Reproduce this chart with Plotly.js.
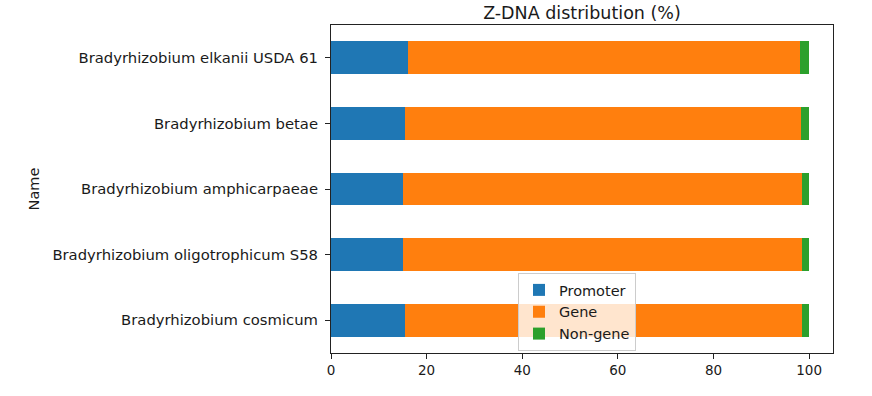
<!DOCTYPE html>
<html>
<head>
<meta charset="utf-8">
<script src="https://cdn.plot.ly/plotly-3.0.1.min.js"></script>
<style>html,body{margin:0;padding:0;background:#fff;}#chart{width:872px;height:396px;}</style>
</head>
<body>
<div id="chart"></div>
<script>
const names = [
  "Bradyrhizobium cosmicum",
  "Bradyrhizobium oligotrophicum S58",
  "Bradyrhizobium amphicarpaeae",
  "Bradyrhizobium betae",
  "Bradyrhizobium elkanii USDA 61"
];
const promoter = [15.5, 15.1, 15.1, 15.5, 16.2];
const gene = [83.1, 83.5, 83.5, 82.8, 81.8];
const nonGene = [1.4, 1.4, 1.4, 1.7, 2.0];
const seriesNames = ["Promoter", "Gene", "Non-gene"];
const colors = ["#1f77b4", "#ff7f0e", "#2ca02c"];
const xTicks = [0, 20, 40, 60, 80, 100];

const font = "DejaVu Sans, sans-serif";
const txt = "#1a1a1a";

const data = [promoter, gene, nonGene].map((vals, i) => ({
  type: "bar",
  orientation: "h",
  y: names,
  x: vals,
  name: seriesNames[i],
  marker: {color: colors[i], line: {width: 0}},
  hoverinfo: "x+y+name"
}));

const layout = {
  width: 872, height: 396,
  barmode: "stack",
  bargap: 0.5,
  paper_bgcolor: "#fff",
  plot_bgcolor: "#fff",
  margin: {l: 331, r: 39, t: 25, b: 43, pad: 0},
  font: {family: font, size: 14.5, color: txt},
  title: {text: "Z-DNA distribution (%)", font: {family: font, size: 17.5, color: txt},
          x: 0.6674, xanchor: "center", xref: "container",
          y: 0.968, yanchor: "middle", yref: "container"},
  xaxis: {
    range: [0, 105], tickvals: xTicks, ticktext: xTicks.map(String),
    showgrid: false, zeroline: false,
    showline: true, mirror: true, linecolor: "#222", linewidth: 1,
    ticks: "outside", ticklen: 5, tickcolor: "#222", tickwidth: 1,
    tickfont: {family: font, size: 13.5, color: txt}
  },
  yaxis: {
    type: "category", categoryorder: "array", categoryarray: names,
    range: [-0.5, 4.5],
    showgrid: false, zeroline: false,
    showline: true, mirror: true, linecolor: "#222", linewidth: 1,
    ticks: "outside", ticklen: 5, tickcolor: "#222", tickwidth: 1,
    ticklabelstandoff: 4,
    tickfont: {family: font, size: 14.8, color: txt},
    title: {text: "Name", font: {family: font, size: 14.5, color: txt}, standoff: 9},
    automargin: true
  },
  legend: {
    x: 0.3725, y: 0.244, xanchor: "left", yanchor: "top",
    bgcolor: "rgba(255,255,255,0.8)", bordercolor: "#cccccc", borderwidth: 1,
    font: {family: font, size: 14.5, color: txt},
    traceorder: "normal", itemwidth: 30, tracegroupgap: 0
  },
  showlegend: true
};

Plotly.newPlot("chart", data, layout, {displayModeBar: false, staticPlot: true});
</script>
</body>
</html>
